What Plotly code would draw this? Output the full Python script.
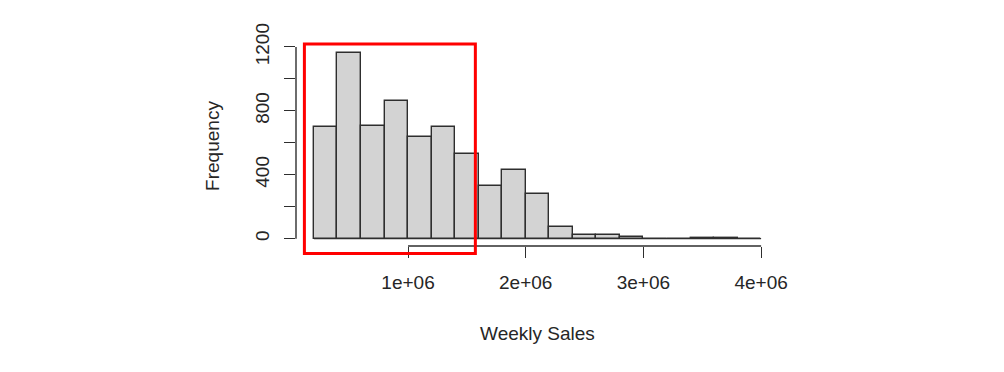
import plotly.graph_objects as go

# Histogram data (R-style hist of weekly sales)
breaks = [200000 * i for i in range(1, 21)]  # 2e5 .. 4e6
counts = [700, 1160, 706, 860, 635, 700, 533, 327, 429, 281, 71, 24, 24, 8, 0, 0, 7, 6, 0]
x_ticks = [1e6, 2e6, 3e6, 4e6]
x_tick_labels = ["1e+06", "2e+06", "3e+06", "4e+06"]
y_ticks = [0, 200, 400, 600, 800, 1000, 1200]
y_tick_labels = ["0", "", "400", "", "800", "", "1200"]

centers = [(breaks[i] + breaks[i + 1]) / 2 for i in range(len(counts))]
widths = [breaks[i + 1] - breaks[i] for i in range(len(counts))]

FONT = "Liberation Sans, Arial, sans-serif"
TXT = "#262626"
LINE = "#2e2e2e"

# R-style 4% extension of axis limits
xr = [breaks[0], breaks[-1]]
xpad = (xr[1] - xr[0]) * 0.04
ylo, yhi = -46, 1206

fig = go.Figure()
fig.add_trace(go.Bar(
    x=centers, y=counts, width=widths,
    marker=dict(color="#d3d3d3", line=dict(color=LINE, width=1.4)),
    hoverinfo="skip",
))

# highlight box
box_x = [119400, 1572000]
box_y = [-93.5, 1219]
def ypaper(v):
    return (v - ylo) / (yhi - ylo)

shapes = [
    # baseline under bars (zero-height bins drawn as lines)
    dict(type="line", xref="x", yref="y", x0=breaks[0], x1=breaks[-1], y0=0, y1=0,
         line=dict(color=LINE, width=1.4)),
    # x axis line
    dict(type="line", xref="x", yref="paper", x0=x_ticks[0], x1=x_ticks[-1], y0=0, y1=0,
         line=dict(color=LINE, width=1.4)),
    # y axis line
    dict(type="line", xref="paper", yref="y", x0=0, x1=0, y0=y_ticks[0], y1=y_ticks[-1],
         line=dict(color=LINE, width=1.4)),
    # red box
    dict(type="rect", xref="x", yref="paper", x0=box_x[0], x1=box_x[1],
         y0=ypaper(box_y[0]), y1=ypaper(box_y[1]),
         line=dict(color="#ff0000", width=3), fillcolor="rgba(0,0,0,0)"),
]

fig.update_layout(
    width=996, height=364,
    margin=dict(l=288, r=225, t=38, b=126),
    paper_bgcolor="white", plot_bgcolor="white",
    showlegend=False, bargap=0,
    font=dict(family=FONT, size=19, color=TXT),
    shapes=shapes,
    xaxis=dict(
        range=[xr[0] - xpad, xr[1] + xpad],
        tickvals=x_ticks, ticktext=x_tick_labels,
        ticks="outside", ticklen=11, tickwidth=1.4, tickcolor=LINE,
        showline=False, showgrid=False, zeroline=False,
        tickfont=dict(family=FONT, size=19, color=TXT),
        ticklabelstandoff=8,
        title=dict(text="Weekly Sales", font=dict(family=FONT, size=19, color=TXT), standoff=34),
    ),
    yaxis=dict(
        range=[ylo, yhi],
        tickvals=y_ticks, ticktext=y_tick_labels,
        ticks="outside", ticklen=11, tickwidth=1.4, tickcolor=LINE,
        tickangle=-90,
        showline=False, showgrid=False, zeroline=False,
        tickfont=dict(family=FONT, size=19, color=TXT),
        ticklabelstandoff=7,
        title=dict(text="Frequency", font=dict(family=FONT, size=19, color=TXT), standoff=27),
    ),
)

fig.write_html("out.html")
